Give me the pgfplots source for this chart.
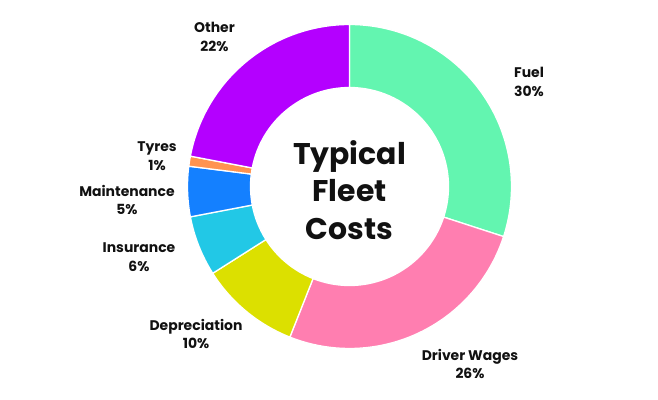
\documentclass[border=0pt]{standalone}
\usepackage{pgfplots}
\pgfplotsset{compat=1.18}
\usetikzlibrary{calc}
\usepackage{fontspec}
\setmainfont{Poppins}

\definecolor{fuel}{HTML}{63F5B0}
\definecolor{wages}{HTML}{FF7EB0}
\definecolor{depr}{HTML}{DCE000}
\definecolor{ins}{HTML}{22C8E6}
\definecolor{maint}{HTML}{1480FF}
\definecolor{tyre}{HTML}{FF9350}
\definecolor{other}{HTML}{B400FF}
\definecolor{txt}{HTML}{111111}

\begin{document}
\begin{tikzpicture}
\begin{axis}[
  hide axis,
  scale only axis,
  width=658bp, height=400bp,
  xmin=0, xmax=658, ymin=0, ymax=400,
  clip=false,
]
\coordinate (c) at (axis cs:349.5,213.5);
\path (axis cs:0,0) rectangle (axis cs:658,400);
% share of each cost in percent, clockwise from the top
\def\cum{0}
\foreach \pct/\col in {30/fuel,26/wages,10/depr,6/ins,5/maint,1/tyre,22/other}{
  \pgfmathsetmacro\aa{90-3.6*\cum}
  \pgfmathsetmacro\ab{90-3.6*(\cum+\pct)}
  \edef\temp{\noexpand\fill[\col, draw=white, line width=1.3bp]
    ($(c)+(\aa:162bp)$) arc[start angle=\aa, end angle=\ab, radius=162bp]
    -- ($(c)+(\ab:99bp)$) arc[start angle=\ab, end angle=\aa, radius=99bp] -- cycle;}
  \temp
  \pgfmathsetmacro\newcum{\cum+\pct}
  \xdef\cum{\newcum}
}
\tikzset{lbl/.style={align=center, text=txt, font=\bfseries\fontsize{14}{19}\selectfont}}
\node[lbl] at (axis cs:529,318) {Fuel\\30\%};
\node[lbl] at (axis cs:470,36) {Driver Wages\\26\%};
\node[lbl] at (axis cs:196,66) {Depreciation\\10\%};
\node[lbl] at (axis cs:139,143) {Insurance\\6\%};
\node[lbl] at (axis cs:127,200) {Maintenance\\5\%};
\node[lbl] at (axis cs:157,243.5) {Tyres\\1\%};
\node[lbl] at (axis cs:214.5,363.5) {Other\\22\%};
\node[align=center, text=txt, font=\bfseries\fontsize{30}{37.5}\selectfont] at (axis cs:349.5,210) {Typical\\Fleet\\Costs};
\end{axis}
\end{tikzpicture}
\end{document}
